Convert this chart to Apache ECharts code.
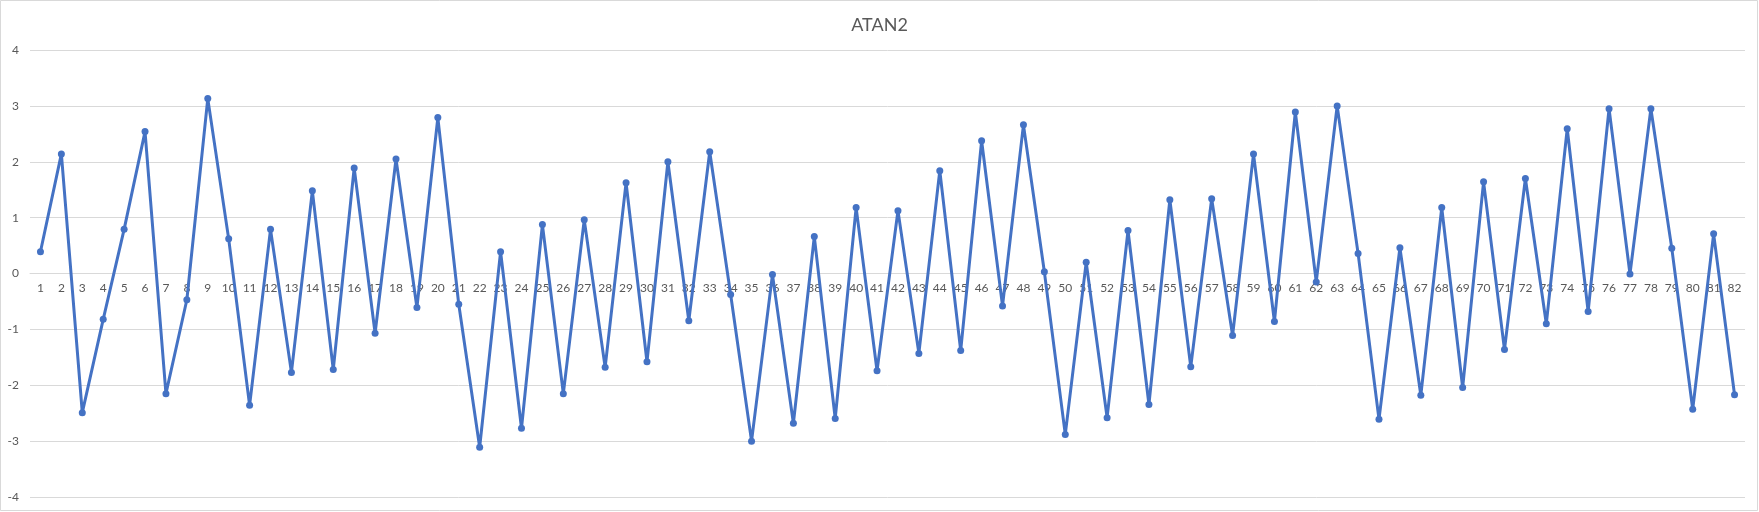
<!DOCTYPE html>
<html>
<head>
<meta charset="utf-8">
<script src="https://cdn.jsdelivr.net/npm/echarts@6/dist/echarts.min.js"></script>
<style>
html,body{margin:0;padding:0;background:#fff;}
#chart{width:1759px;height:512px;}
</style>
</head>
<body>
<div id="chart"></div>
<script>
const title = 'ATAN2';
const categories = [];
for (let i = 1; i <= 82; i++) categories.push(String(i));
const atan2Values = [
  0.39, 2.14, -2.49, -0.82, 0.79, 2.54, -2.15, -0.47, 3.13, 0.62,
  -2.36, 0.79, -1.77, 1.48, -1.72, 1.89, -1.07, 2.05, -0.61, 2.79,
  -0.55, -3.11, 0.39, -2.77, 0.875, -2.15, 0.96, -1.68, 1.625, -1.58,
  2.0, -0.845, 2.18, -0.375, -3.0, -0.02, -2.68, 0.66, -2.595, 1.18,
  -1.74, 1.125, -1.43, 1.84, -1.38, 2.375, -0.58, 2.66, 0.03, -2.88,
  0.20, -2.58, 0.77, -2.345, 1.32, -1.67, 1.34, -1.11, 2.14, -0.86,
  2.89, -0.15, 3.0, 0.36, -2.61, 0.46, -2.18, 1.18, -2.04, 1.64,
  -1.36, 1.70, -0.90, 2.59, -0.68, 2.95, -0.01, 2.95, 0.45, -2.43,
  0.71, -2.17
];
const yTicks = { min: -4, max: 4, interval: 1 };

const gridTop = 50, gridBottom = 15, chartH = 512;
const gridH = chartH - gridTop - gridBottom;
// place category axis at value 0
const zeroOffset = -gridH * (0 - yTicks.min) / (yTicks.max - yTicks.min);

const chart = echarts.init(document.getElementById('chart'), null, {renderer: 'canvas'});
chart.setOption({
  backgroundColor: '#ffffff',
  animation: false,
  textStyle: { fontFamily: 'Lato, "Liberation Sans", sans-serif' },
  title: {
    text: title,
    left: 'center',
    top: 11,
    textStyle: { color: '#595959', fontSize: 18, fontWeight: 'normal', fontFamily: 'Lato, "Liberation Sans", sans-serif' }
  },
  graphic: [{
    type: 'rect',
    shape: { x: 0.5, y: 0.5, width: 1757, height: 510 },
    style: { fill: 'none', stroke: '#d9d9d9', lineWidth: 1 },
    silent: true
  }],
  grid: { left: 30, right: 14, top: gridTop, bottom: gridBottom, containLabel: false },
  xAxis: {
    type: 'category',
    data: categories,
    boundaryGap: true,
    position: 'bottom',
    offset: zeroOffset,
    axisLine: { show: true, onZero: false, lineStyle: { color: '#d9d9d9' } },
    axisTick: { show: false },
    axisLabel: { interval: 0, color: '#595959', fontSize: 12, margin: 9 },
    splitLine: { show: false }
  },
  yAxis: {
    type: 'value',
    min: yTicks.min,
    max: yTicks.max,
    interval: yTicks.interval,
    axisLine: { show: false },
    axisTick: { show: false },
    axisLabel: { color: '#595959', fontSize: 12, margin: 11 },
    splitLine: { lineStyle: { color: '#d9d9d9', width: 1 } }
  },
  series: [{
    type: 'line',
    name: title,
    data: atan2Values,
    symbol: 'circle',
    symbolSize: 7,
    lineStyle: { color: '#4472C4', width: 3 },
    itemStyle: { color: '#4472C4' }
  }]
});
</script>
</body>
</html>
